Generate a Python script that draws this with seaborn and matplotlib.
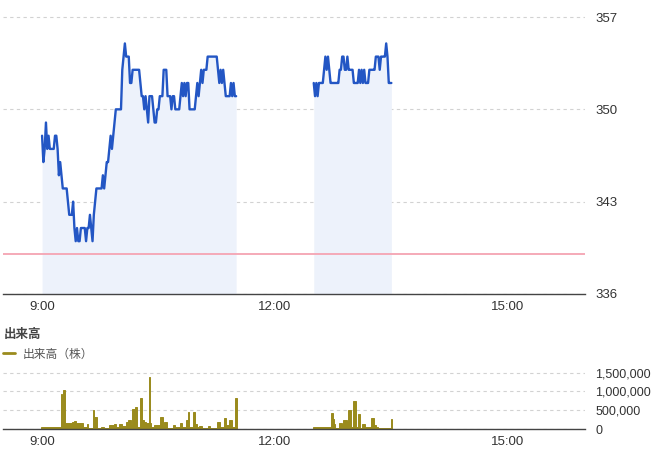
import matplotlib
matplotlib.use('Agg')
import numpy as np
import pandas as pd
import matplotlib.pyplot as plt
from matplotlib.lines import Line2D
from matplotlib.ticker import FuncFormatter
import seaborn as sns

# minutes after 9:00 for each session
am_minutes = list(range(0, 151))     # 9:00 - 11:30
pm_minutes = list(range(210, 271))   # 12:30 - 13:30

am_price = [348, 346, 347, 349, 347, 348, 347, 347, 347, 347,
            348, 348, 347, 345, 346, 345, 344, 344, 344, 344,
            343, 342, 342, 342, 343, 341, 340, 341, 340, 340,
            341, 341, 341, 341, 340, 341, 341, 342, 341, 340,
            342, 343, 344, 344, 344, 344, 344, 345, 344, 345,
            346, 346, 347, 348, 347, 348, 349, 350, 350, 350,
            350, 350, 353, 354, 355, 354, 354, 354, 352, 352,
            353, 353, 353, 353, 353, 353, 352, 351, 351, 350,
            351, 350, 349, 351, 351, 351, 350, 349, 349, 350,
            350, 351, 351, 351, 353, 353, 353, 351, 351, 351,
            350, 351, 351, 350, 350, 350, 350, 351, 352, 351,
            352, 351, 352, 352, 350, 350, 350, 350, 350, 351,
            352, 351, 352, 353, 352, 353, 353, 353, 354, 354,
            354, 354, 354, 354, 354, 354, 353, 352, 353, 352,
            353, 352, 351, 351, 351, 351, 352, 351, 352, 351,
            351]

pm_price = [352, 351, 352, 351, 352, 352, 352, 352, 353, 354,
            353, 354, 353, 352, 352, 352, 352, 352, 352, 352,
            353, 353, 354, 354, 353, 353, 354, 353, 353, 353,
            353, 352, 352, 352, 352, 353, 352, 353, 352, 353,
            352, 352, 352, 353, 353, 353, 353, 353, 354, 354,
            354, 353, 354, 354, 354, 354, 355, 354, 352, 352,
            352]

# volume in thousands of shares
am_volume_k = [60, 60, 60, 60, 60, 60, 60, 60, 60, 60,
               60, 60, 60, 60, 60, 930, 195, 1050, 150, 150,
               150, 150, 150, 150, 195, 212, 212, 150, 150, 150,
               150, 150, 44, 44, 44, 133, 35, 35, 35, 35,
               504, 327, 327, 35, 35, 35, 62, 62, 20, 20,
               20, 20, 106, 106, 106, 106, 133, 133, 60, 60,
               133, 133, 80, 80, 80, 177, 177, 240, 240, 106,
               522, 522, 575, 575, 60, 60, 814, 814, 240, 195,
               195, 150, 150, 1390, 150, 44, 44, 106, 106, 106,
               106, 106, 327, 327, 60, 177, 177, 30, 30, 30,
               30, 30, 106, 60, 60, 60, 60, 150, 150, 60,
               60, 60, 240, 460, 60, 60, 60, 460, 460, 133,
               44, 44, 88, 88, 20, 20, 20, 20, 20, 88,
               35, 35, 35, 35, 35, 35, 177, 177, 44, 44,
               44, 283, 283, 106, 106, 240, 240, 60, 60, 60,
               840]

pm_volume_k = [60, 60, 60, 60, 60, 60, 60, 60, 60, 60,
               60, 60, 60, 60, 434, 257, 133, 18, 18, 18,
               168, 168, 124, 240, 240, 240, 177, 504, 504, 60,
               60, 743, 743, 60, 60, 389, 35, 35, 124, 124,
               44, 44, 44, 44, 44, 300, 300, 106, 106, 44,
               18, 18, 18, 18, 18, 18, 18, 18, 18, 18,
               274]

prev_close = 339
price_ticks = [336, 343, 350, 357]
volume_ticks = [0, 500000, 1000000, 1500000]
time_ticks = [0, 180, 360]
time_labels = ['9:00', '12:00', '15:00']

line_color = '#2356c4'
fill_color = '#edf2fb'
vol_color = '#9a8b1d'
text_color = '#333333'
grid_color = '#d2d2d2'

price_df = pd.DataFrame({
    'minute': am_minutes + pm_minutes,
    'price': am_price + pm_price,
    'session': ['am'] * len(am_minutes) + ['pm'] * len(pm_minutes),
})
vol_df = pd.DataFrame({
    'minute': am_minutes + pm_minutes,
    'volume': [v * 1000 for v in am_volume_k + pm_volume_k],
})

sns.set_style('white')
plt.rcParams['font.family'] = ['Liberation Sans', 'Noto Sans CJK JP', 'DejaVu Sans']

fig = plt.figure(figsize=(6.53, 4.55), dpi=100)
ax1 = fig.add_axes([0.005, 0.354, 0.8915, 0.623])
ax2 = fig.add_axes([0.005, 0.057, 0.8915, 0.128])

# price panel
for name, grp in price_df.groupby('session'):
    ax1.fill_between(grp['minute'], grp['price'], 336, color=fill_color, lw=0, zorder=1)
sns.lineplot(data=price_df, x='minute', y='price', units='session', estimator=None,
             color=line_color, lw=1.7, ax=ax1, zorder=3)
ax1.axhline(prev_close, color='#f5aab8', lw=1.4, zorder=2)

ax1.set_xlim(-30, 420)
ax1.set_ylim(336, 357.5)
ax1.yaxis.tick_right()
ax1.set_yticks(price_ticks)
ax1.set_xticks(time_ticks)
ax1.set_xticklabels(time_labels)
ax1.grid(axis='y', ls=(0, (3, 3)), color=grid_color, lw=0.8)
ax1.set_axisbelow(True)
ax1.set_xlabel('')
ax1.set_ylabel('')

# volume panel
sns.barplot(data=vol_df, x='minute', y='volume', native_scale=True, color=vol_color,
            saturation=1, width=1, linewidth=0.7, edgecolor=vol_color, errorbar=None,
            ax=ax2, zorder=3)
ax2.set_xlim(-30, 420)
ax2.set_ylim(0, 1550000)
ax2.yaxis.tick_right()
ax2.set_yticks(volume_ticks)
ax2.yaxis.set_major_formatter(FuncFormatter(lambda v, p: f'{int(v):,}'))
ax2.set_xticks(time_ticks)
ax2.set_xticklabels(time_labels)
ax2.grid(axis='y', ls=(0, (3, 3)), color=grid_color, lw=0.8)
ax2.set_axisbelow(True)
ax2.set_xlabel('')
ax2.set_ylabel('')

for ax in (ax1, ax2):
    for s in ('top', 'left', 'right'):
        ax.spines[s].set_visible(False)
    ax.spines['bottom'].set_color('#444444')
    ax.spines['bottom'].set_linewidth(1.0)
    ax.spines['bottom'].set_zorder(4)
    ax.tick_params(length=0, labelsize=9.5, colors=text_color)
    ax.tick_params(axis='y', pad=7)
    ax.tick_params(axis='x', pad=5)
ax2.tick_params(axis='y', labelsize=9)

fig.text(0.005, 1 - 335 / 455, '出来高', fontsize=9, fontweight='bold',
         color='#444444', va='center', ha='left')
ax2.legend(handles=[Line2D([], [], color=vol_color, lw=2)], labels=['出来高（株）'],
           loc='center left', bbox_to_anchor=(0.0, 1.28), frameon=False,
           handlelength=1.0, handletextpad=0.6, borderaxespad=0, borderpad=0,
           prop={'size': 8.5}, labelcolor='#555555')

fig.savefig('out.png', dpi=100)
